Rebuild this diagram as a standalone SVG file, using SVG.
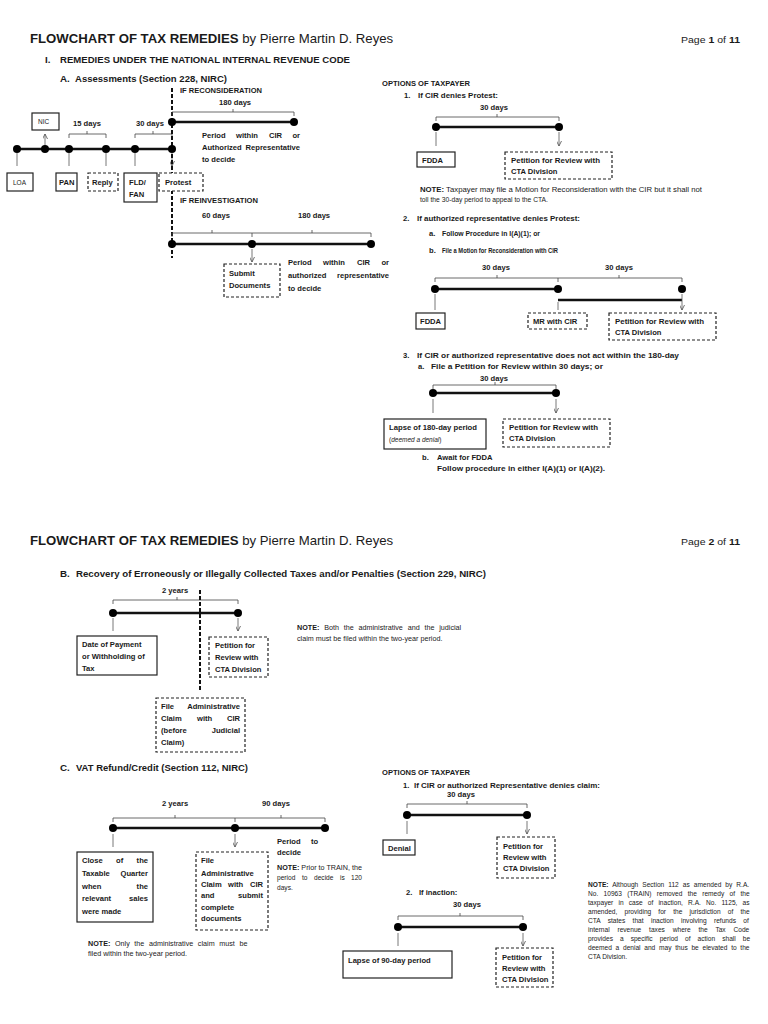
<svg xmlns="http://www.w3.org/2000/svg" width="768" height="1024" viewBox="0 0 768 1024">
<defs>
<style>
text{font-family:"Liberation Sans",Arial,sans-serif;fill:#1a1a1a}
.h{font-size:13.2px}
.pg{font-size:9.5px}
.sec{font-size:9.8px;font-weight:bold}
.l{font-size:7.6px;font-weight:bold}
.s{font-size:6.6px}
.s7{font-size:7.2px}
.n{font-size:6.5px}
.e{text-anchor:end}
.box{fill:#fff;stroke:#222;stroke-width:1.2}
.dbox{fill:#fff;stroke:#222;stroke-width:1.2;stroke-dasharray:3 2}
.tl{stroke:#111;stroke-width:2.6;fill:none}
.br{stroke:#444;stroke-width:0.8;fill:none}
.ar{stroke:#555;stroke-width:0.8;fill:none;marker-end:url(#ah)}
.vd{stroke:#111;stroke-width:2;stroke-dasharray:4 2;fill:none}
.dot{fill:#000}
</style>
<marker id="ah" viewBox="0 0 6 6" refX="6" refY="3" markerWidth="5" markerHeight="5" markerUnits="userSpaceOnUse" orient="auto">
<path d="M0,0 L6,3 L0,6" fill="none" stroke="#555" stroke-width="1"/>
</marker>
</defs>
<rect width="768" height="1024" fill="#fff"/>

<!-- PAGE 1 HEADER -->
<g id="page1-header">
<text class="h" x="30" y="43"><tspan font-weight="bold">FLOWCHART OF TAX REMEDIES</tspan> by Pierre Martin D. Reyes</text>
<text class="pg" x="681" y="43" textLength="59" lengthAdjust="spacingAndGlyphs">Page <tspan font-weight="bold">1</tspan> of <tspan font-weight="bold">11</tspan></text>
<text class="sec" x="45" y="63">I.</text>
<text class="sec" x="60" y="63" textLength="290" lengthAdjust="spacingAndGlyphs">REMEDIES UNDER THE NATIONAL INTERNAL REVENUE CODE</text>
<text class="sec" x="60" y="82">A.</text>
<text class="sec" x="75" y="82" textLength="152" lengthAdjust="spacingAndGlyphs">Assessments (Section 228, NIRC)</text>
</g>

<g id="connectors">
<!-- assessment timeline -->
<path class="tl" d="M17,149 H172"/>
<path class="br" d="M69,138 V134 H106 V138 M87,134 V131"/>
<path class="br" d="M135,138 V134 H172 V138 M153,134 V131"/>
<path class="ar" d="M45,146 V134"/>
<path class="ar" d="M17,153 V166 M69,153 V166 M106,153 V166 M135,153 V166 M172,153 V166"/>
<!-- reconsideration -->
<path class="vd" d="M172,88 V258"/>
<path class="tl" d="M172,122 H294"/>
<path class="br" d="M172,116 V112 H294 V116 M233,112 V109"/>
<!-- reinvestigation -->
<path class="tl" d="M172,244 H371"/>
<path class="br" d="M172,237 V233 H371 V237 M252,233 V237 M212,233 V230 M312,233 V230"/>
<path class="ar" d="M252,249 V262"/>
<!-- option 1 -->
<path class="tl" d="M436,127 H559"/>
<path class="br" d="M436,121 V117 H559 V121 M497,117 V114"/>
<path class="ar" d="M436,132 V146 M559,132 V146"/>
<!-- option 2 -->
<path class="tl" d="M435,289 H558"/>
<path class="tl" d="M558,300 H682"/>
<path class="br" d="M435,282 V278 H682 V282 M558,278 V282 M497,278 V275 M619,278 V275"/>
<path class="ar" d="M435,294 V310 M558,302 V310 M682,294 V310"/>
<!-- option 3 -->
<path class="tl" d="M433,393 H556"/>
<path class="br" d="M433,389 V385 H556 V389 M495,385 V382"/>
<path class="ar" d="M433,399 V413 M556,399 V413"/>
<!-- page 2 B -->
<path class="tl" d="M113,613 H238"/>
<path class="br" d="M113,604 V600 H238 V604 M177,600 V597"/>
<path class="vd" d="M200,590 V692"/>
<path class="ar" d="M113,618 V631 M238,618 V631"/>
<!-- page 2 C -->
<path class="tl" d="M113,828 H325"/>
<path class="br" d="M113,822 V818 H325 V822 M235,818 V822 M175,818 V815 M281,818 V815"/>
<path class="ar" d="M113,834 V847 M235,834 V847"/>
<!-- C option 1 -->
<path class="tl" d="M407,815 H527"/>
<path class="br" d="M407,808 V804 H527 V808 M467,804 V801"/>
<path class="ar" d="M407,821 V834 M527,821 V834"/>
<!-- C option 2 -->
<path class="tl" d="M398,927 H523"/>
<path class="br" d="M398,920 V916 H523 V920 M460,916 V913"/>
<path class="ar" d="M398,933 V946 M523,933 V946"/>
<!-- dots -->
<circle class="dot" cx="17" cy="149" r="4"/><circle class="dot" cx="45" cy="149" r="4"/><circle class="dot" cx="69" cy="149" r="4"/><circle class="dot" cx="106" cy="149" r="4"/><circle class="dot" cx="135" cy="149" r="4"/><circle class="dot" cx="172" cy="149" r="4"/>
<circle class="dot" cx="172" cy="122" r="4"/><circle class="dot" cx="294" cy="122" r="4"/>
<circle class="dot" cx="172" cy="244" r="4"/><circle class="dot" cx="252" cy="244" r="4"/><circle class="dot" cx="371" cy="244" r="4"/>
<circle class="dot" cx="436" cy="127" r="4"/><circle class="dot" cx="559" cy="127" r="4"/>
<circle class="dot" cx="435" cy="289" r="4"/><circle class="dot" cx="558" cy="289" r="4"/><circle class="dot" cx="682" cy="289" r="4"/>
<circle class="dot" cx="433" cy="393" r="4"/><circle class="dot" cx="556" cy="393" r="4"/>
<circle class="dot" cx="113" cy="613" r="4"/><circle class="dot" cx="238" cy="613" r="4"/>
<circle class="dot" cx="113" cy="828" r="4"/><circle class="dot" cx="235" cy="828" r="4"/><circle class="dot" cx="325" cy="828" r="4"/>
<circle class="dot" cx="407" cy="815" r="4"/><circle class="dot" cx="527" cy="815" r="4"/>
<circle class="dot" cx="398" cy="927" r="4"/><circle class="dot" cx="523" cy="927" r="4"/>
</g>

<!-- Assessment labels -->
<g id="assess-labels">
<text class="l" x="73" y="126">15 days</text>
<text class="l" x="136" y="126">30 days</text>
<text class="l" x="180" y="93" textLength="82" lengthAdjust="spacingAndGlyphs">IF RECONSIDERATION</text>
<text class="l" x="219" y="105">180 days</text>
<text class="l" x="202" y="138">Period</text><text class="l" x="236" y="138">within</text><text class="l" x="269" y="138">CIR</text><text class="l e" x="300" y="138">or</text>
<text class="l" x="202" y="150">Authorized</text><text class="l e" x="300" y="150">Representative</text>
<text class="l" x="202" y="162">to decide</text>
<text class="l" x="180" y="203" textLength="78" lengthAdjust="spacingAndGlyphs">IF REINVESTIGATION</text>
<text class="l" x="202" y="218">60 days</text>
<text class="l" x="298" y="218">180 days</text>
<text class="l" x="288" y="265">Period</text><text class="l" x="323" y="265">within</text><text class="l" x="357" y="265">CIR</text><text class="l e" x="389" y="265">or</text>
<text class="l" x="288" y="278">authorized</text><text class="l e" x="389" y="278">representative</text>
<text class="l" x="288" y="291">to decide</text>
</g>
<g id="nic"><rect class="box" x="32" y="113" width="27" height="17"/><text class="n" x="38" y="124">NIC</text></g>
<g id="loa"><rect class="box" x="7" y="173" width="26" height="18"/><text class="n" x="13" y="185">LOA</text></g>
<g id="pan"><rect class="box" x="56" y="173" width="21" height="18"/><text class="l" x="59" y="185">PAN</text></g>
<g id="reply"><rect class="dbox" x="88" y="173" width="30" height="18"/><text class="l" x="92" y="185">Reply</text></g>
<g id="fldfan"><rect class="box" x="124" y="173" width="33" height="29"/><text class="l" x="129" y="185">FLD/</text><text class="l" x="129" y="197">FAN</text></g>
<g id="protest"><rect class="dbox" x="159" y="173" width="44" height="18"/><text class="l" x="165" y="185">Protest</text></g>
<g id="submit"><rect class="dbox" x="224" y="264" width="56" height="33"/><text class="l" x="229" y="276">Submit</text><text class="l" x="229" y="288">Documents</text></g>

<!-- Options page 1 -->
<g id="options1-labels">
<text class="l" x="382" y="86" textLength="88" lengthAdjust="spacingAndGlyphs">OPTIONS OF TAXPAYER</text>
<text class="l" x="404" y="98">1.</text>
<text class="l" x="418" y="98" textLength="80" lengthAdjust="spacingAndGlyphs">If CIR denies Protest:</text>
<text class="l" x="480" y="110">30 days</text>
<text class="s" x="420" y="192" textLength="282" lengthAdjust="spacingAndGlyphs"><tspan font-weight="bold">NOTE:</tspan> Taxpayer may file a Motion for Reconsideration with the CIR but it shall not</text>
<text class="s" x="420" y="202" textLength="128" lengthAdjust="spacingAndGlyphs">toll the 30-day period to appeal to the CTA.</text>
<text class="l" x="403" y="221">2.</text>
<text class="l" x="417" y="221" textLength="163" lengthAdjust="spacingAndGlyphs">If authorized representative denies Protest:</text>
<text class="l" x="429" y="236">a.</text>
<text class="l" x="442" y="236" textLength="98" lengthAdjust="spacingAndGlyphs">Follow Procedure in I(A)(1); or</text>
<text class="l" x="429" y="253">b.</text>
<text class="l" x="442" y="253" textLength="116" lengthAdjust="spacingAndGlyphs">File a Motion for Reconsideration with CIR</text>
<text class="l" x="482" y="270">30 days</text>
<text class="l" x="605" y="270">30 days</text>
<text class="l" x="403" y="358">3.</text>
<text class="l" x="417" y="358" textLength="262" lengthAdjust="spacingAndGlyphs">If CIR or authorized representative does not act within the 180-day</text>
<text class="l" x="418" y="369">a.</text>
<text class="l" x="431" y="369" textLength="172" lengthAdjust="spacingAndGlyphs">File a Petition for Review within 30 days; or</text>
<text class="l" x="480" y="381">30 days</text>
<text class="l" x="422" y="460">b.</text>
<text class="l" x="437" y="460">Await for FDDA</text>
<text class="l" x="437" y="471" textLength="168" lengthAdjust="spacingAndGlyphs">Follow procedure in either I(A)(1) or I(A)(2).</text>
</g>
<g id="fdda1"><rect class="box" x="417" y="152" width="38" height="15"/><text class="l" x="422" y="163">FDDA</text></g>
<g id="petition1"><rect class="dbox" x="505" y="152" width="107" height="27"/><text class="l" x="511" y="163" textLength="89" lengthAdjust="spacingAndGlyphs">Petition for Review with</text><text class="l" x="511" y="174">CTA Division</text></g>
<g id="fdda2"><rect class="box" x="416" y="313" width="29" height="16"/><text class="l" x="420" y="324">FDDA</text></g>
<g id="mr"><rect class="dbox" x="528" y="313" width="59" height="16"/><text class="l" x="533" y="324">MR with CIR</text></g>
<g id="petition2"><rect class="dbox" x="609" y="313" width="107" height="27"/><text class="l" x="615" y="324" textLength="89" lengthAdjust="spacingAndGlyphs">Petition for Review with</text><text class="l" x="615" y="335">CTA Division</text></g>
<g id="lapse180"><rect class="box" x="384" y="419" width="102" height="30"/><text class="l" x="389" y="430" textLength="88" lengthAdjust="spacingAndGlyphs">Lapse of 180-day period</text><text class="n" x="389" y="442">(<tspan font-style="italic">deemed a denial</tspan>)</text></g>
<g id="petition3"><rect class="dbox" x="503" y="419" width="107" height="28"/><text class="l" x="509" y="430" textLength="89" lengthAdjust="spacingAndGlyphs">Petition for Review with</text><text class="l" x="509" y="441">CTA Division</text></g>

<!-- PAGE 2 -->
<g id="page2-header">
<text class="h" x="30" y="545"><tspan font-weight="bold">FLOWCHART OF TAX REMEDIES</tspan> by Pierre Martin D. Reyes</text>
<text class="pg" x="681" y="545" textLength="59" lengthAdjust="spacingAndGlyphs">Page <tspan font-weight="bold">2</tspan> of <tspan font-weight="bold">11</tspan></text>
<text class="sec" x="60" y="577">B.</text>
<text class="sec" x="76" y="577" textLength="410" lengthAdjust="spacingAndGlyphs">Recovery of Erroneously or Illegally Collected Taxes and/or Penalties (Section 229, NIRC)</text>
<text class="l" x="162" y="593">2 years</text>
<text class="s7" x="297" y="630" style="word-spacing:2.8px"><tspan font-weight="bold">NOTE:</tspan> Both the administrative and the judicial</text>
<text class="s7" x="297" y="641">claim must be filed within the two-year period.</text>
<text class="sec" x="60" y="771">C.</text>
<text class="sec" x="76" y="771" textLength="172" lengthAdjust="spacingAndGlyphs">VAT Refund/Credit (Section 112, NIRC)</text>
<text class="l" x="162" y="806">2 years</text>
<text class="l" x="262" y="806">90 days</text>
<text class="l" x="277" y="844">Period</text><text class="l" x="311" y="844">to</text>
<text class="l" x="277" y="855">decide</text>
<text class="s" x="277" y="870" textLength="85" lengthAdjust="spacingAndGlyphs"><tspan font-weight="bold">NOTE:</tspan> Prior to TRAIN, the</text>
<text class="s" x="277" y="880">period</text><text class="s" x="302" y="880">to</text><text class="s" x="314" y="880">decide</text><text class="s" x="340" y="880">is</text><text class="s e" x="362" y="880">120</text>
<text class="s" x="277" y="890">days.</text>
<text class="s7" x="88" y="946" style="word-spacing:2.6px"><tspan font-weight="bold">NOTE:</tspan> Only the administrative claim must be</text>
<text class="s7" x="88" y="956">filed within the two-year period.</text>
</g>
<g id="datepay"><rect class="box" x="77" y="636" width="80" height="39"/><text class="l" x="82" y="647">Date of Payment</text><text class="l" x="82" y="659">or Withholding of</text><text class="l" x="82" y="671">Tax</text></g>
<g id="petitionB"><rect class="dbox" x="209" y="637" width="59" height="40"/><text class="l" x="215" y="648">Petition for</text><text class="l" x="215" y="660">Review with</text><text class="l" x="215" y="672">CTA Division</text></g>
<g id="fileadminB"><rect class="dbox" x="156" y="698" width="89" height="54"/>
<text class="l" x="161" y="709">File</text><text class="l e" x="240" y="709">Administrative</text>
<text class="l" x="161" y="721">Claim</text><text class="l" x="197" y="721">with</text><text class="l e" x="240" y="721">CIR</text>
<text class="l" x="161" y="733">(before</text><text class="l e" x="240" y="733">Judicial</text>
<text class="l" x="161" y="745">Claim)</text></g>
<g id="closeq"><rect class="box" x="77" y="852" width="76" height="70"/>
<text class="l" x="82" y="863">Close</text><text class="l" x="116" y="863">of</text><text class="l e" x="148" y="863">the</text>
<text class="l" x="82" y="876">Taxable</text><text class="l e" x="148" y="876">Quarter</text>
<text class="l" x="82" y="889">when</text><text class="l e" x="148" y="889">the</text>
<text class="l" x="82" y="901">relevant</text><text class="l e" x="148" y="901">sales</text>
<text class="l" x="82" y="914">were made</text></g>
<g id="fileadminC"><rect class="dbox" x="196" y="852" width="72" height="78"/>
<text class="l" x="201" y="863">File</text>
<text class="l" x="201" y="876">Administrative</text>
<text class="l" x="201" y="887">Claim</text><text class="l" x="228" y="887">with</text><text class="l e" x="263" y="887">CIR</text>
<text class="l" x="201" y="898">and</text><text class="l e" x="263" y="898">submit</text>
<text class="l" x="201" y="910">complete</text>
<text class="l" x="201" y="921">documents</text></g>

<g id="options2-labels">
<text class="l" x="382" y="775" textLength="88" lengthAdjust="spacingAndGlyphs">OPTIONS OF TAXPAYER</text>
<text class="l" x="403" y="788">1.</text>
<text class="l" x="414" y="788" textLength="186" lengthAdjust="spacingAndGlyphs">If CIR or authorized Representative denies claim:</text>
<text class="l" x="447" y="797">30 days</text>
<text class="l" x="406" y="895">2.</text>
<text class="l" x="419" y="895">If inaction:</text>
<text class="l" x="453" y="907">30 days</text>
<g class="note">
<text class="s" x="588" y="887" style="word-spacing:2.2px"><tspan font-weight="bold">NOTE:</tspan> Although Section 112 as amended by R.A.</text>
<text class="s" x="588" y="896" style="word-spacing:3.5px">No. 10963 (TRAIN) removed the remedy of the</text>
<text class="s" x="588" y="905" style="word-spacing:3.3px">taxpayer in case of inaction, R.A. No. 1125, as</text>
<text class="s" x="588" y="914" style="word-spacing:5.3px">amended, providing for the jurisdiction of the</text>
<text class="s" x="588" y="923" style="word-spacing:5.5px">CTA states that inaction involving refunds of</text>
<text class="s" x="588" y="932" style="word-spacing:6px">internal revenue taxes where the Tax Code</text>
<text class="s" x="588" y="941" style="word-spacing:5.2px">provides a specific period of action shall be</text>
<text class="s" x="588" y="950" style="word-spacing:1.9px">deemed a denial and may thus be elevated to the</text>
<text class="s" x="588" y="959">CTA Division.</text>
</g>
</g>
<g id="denial"><rect class="box" x="383" y="840" width="32" height="15"/><text class="l" x="388" y="851">Denial</text></g>
<g id="petitionC1"><rect class="dbox" x="497" y="837" width="58" height="41"/><text class="l" x="503" y="849">Petition for</text><text class="l" x="503" y="860">Review with</text><text class="l" x="503" y="871">CTA Division</text></g>
<g id="lapse90"><rect class="box" x="343" y="951" width="109" height="27"/><text class="l" x="348" y="963">Lapse of 90-day period</text></g>
<g id="petitionC2"><rect class="dbox" x="496" y="948" width="57" height="39"/><text class="l" x="502" y="960">Petition for</text><text class="l" x="502" y="971">Review with</text><text class="l" x="502" y="982">CTA Division</text></g>
</svg>
